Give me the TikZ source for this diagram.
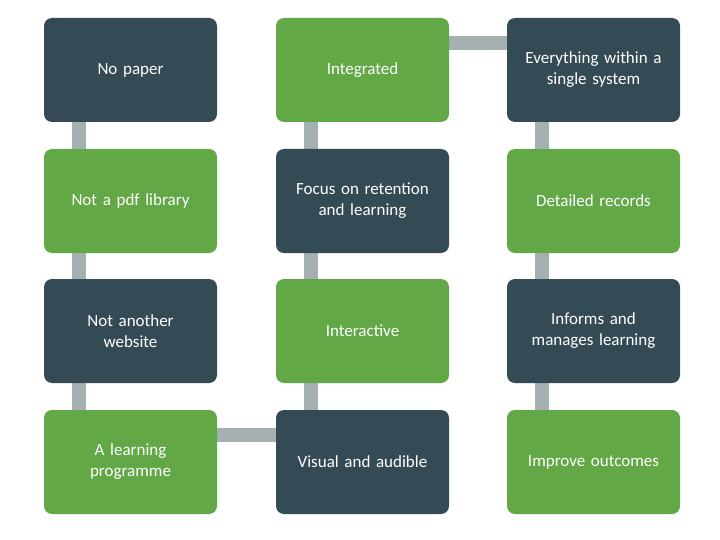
\documentclass[tikz,border=0pt]{standalone}
\usepackage{fontspec}
\setmainfont{Carlito}
\usetikzlibrary{positioning, backgrounds}
\definecolor{slate}{HTML}{344A55}
\definecolor{leaf}{HTML}{62A846}
\definecolor{bar}{HTML}{A6AFB2}
\begin{document}
\begin{tikzpicture}[
    x=1pt, y=-1pt,
    every node/.style={align=center},
    box/.style={rectangle, rounded corners=8pt, minimum width=173pt, minimum height=104pt,
        text width=160pt, text=white, font=\fontsize{17}{21}\selectfont, inner sep=0pt},
    dark/.style={box, fill=slate},
    green/.style={box, fill=leaf},
    link/.style={line width=14pt, bar}
]
\useasboundingbox (0,0) rectangle (720,540);

% first column
\node[dark] (paper) at (130.5,70) {No paper};
\node[green] (pdf) at (130.5,201) {Not a pdf library};
\node[dark] (web) at (130.5,331) {Not another\\website};
\node[green] (prog) at (130.5,462) {A learning\\programme};

% second column
\node[green] (integ) at (362.5,70) {Integrated};
\node[dark] (focus) at (362.5,201) {Focus on retention\\and learning};
\node[green] (inter) at (362.5,331) {Interactive};
\node[dark] (visual) at (362.5,462) {Visual and audible};

% third column
\node[dark] (system) at (593.5,70) {Everything within a\\single system};
\node[green] (records) at (593.5,201) {Detailed records};
\node[dark] (informs) at (593.5,331) {Informs and\\manages learning};
\node[green] (improve) at (593.5,462) {Improve outcomes};

% connectors
\begin{scope}[on background layer]
\draw[link] ([xshift=35pt]paper.north west) -- ([xshift=35pt]prog.south west);
\draw[link] ([yshift=-25pt]prog.north east) -- ([yshift=-25pt]visual.north west);
\draw[link] ([xshift=35pt]integ.north west) -- ([xshift=35pt]visual.south west);
\draw[link] ([yshift=-25pt]integ.north east) -- ([yshift=-25pt]system.north west);
\draw[link] ([xshift=35pt]system.north west) -- ([xshift=35pt]improve.south west);
\end{scope}

\end{tikzpicture}
\end{document}
